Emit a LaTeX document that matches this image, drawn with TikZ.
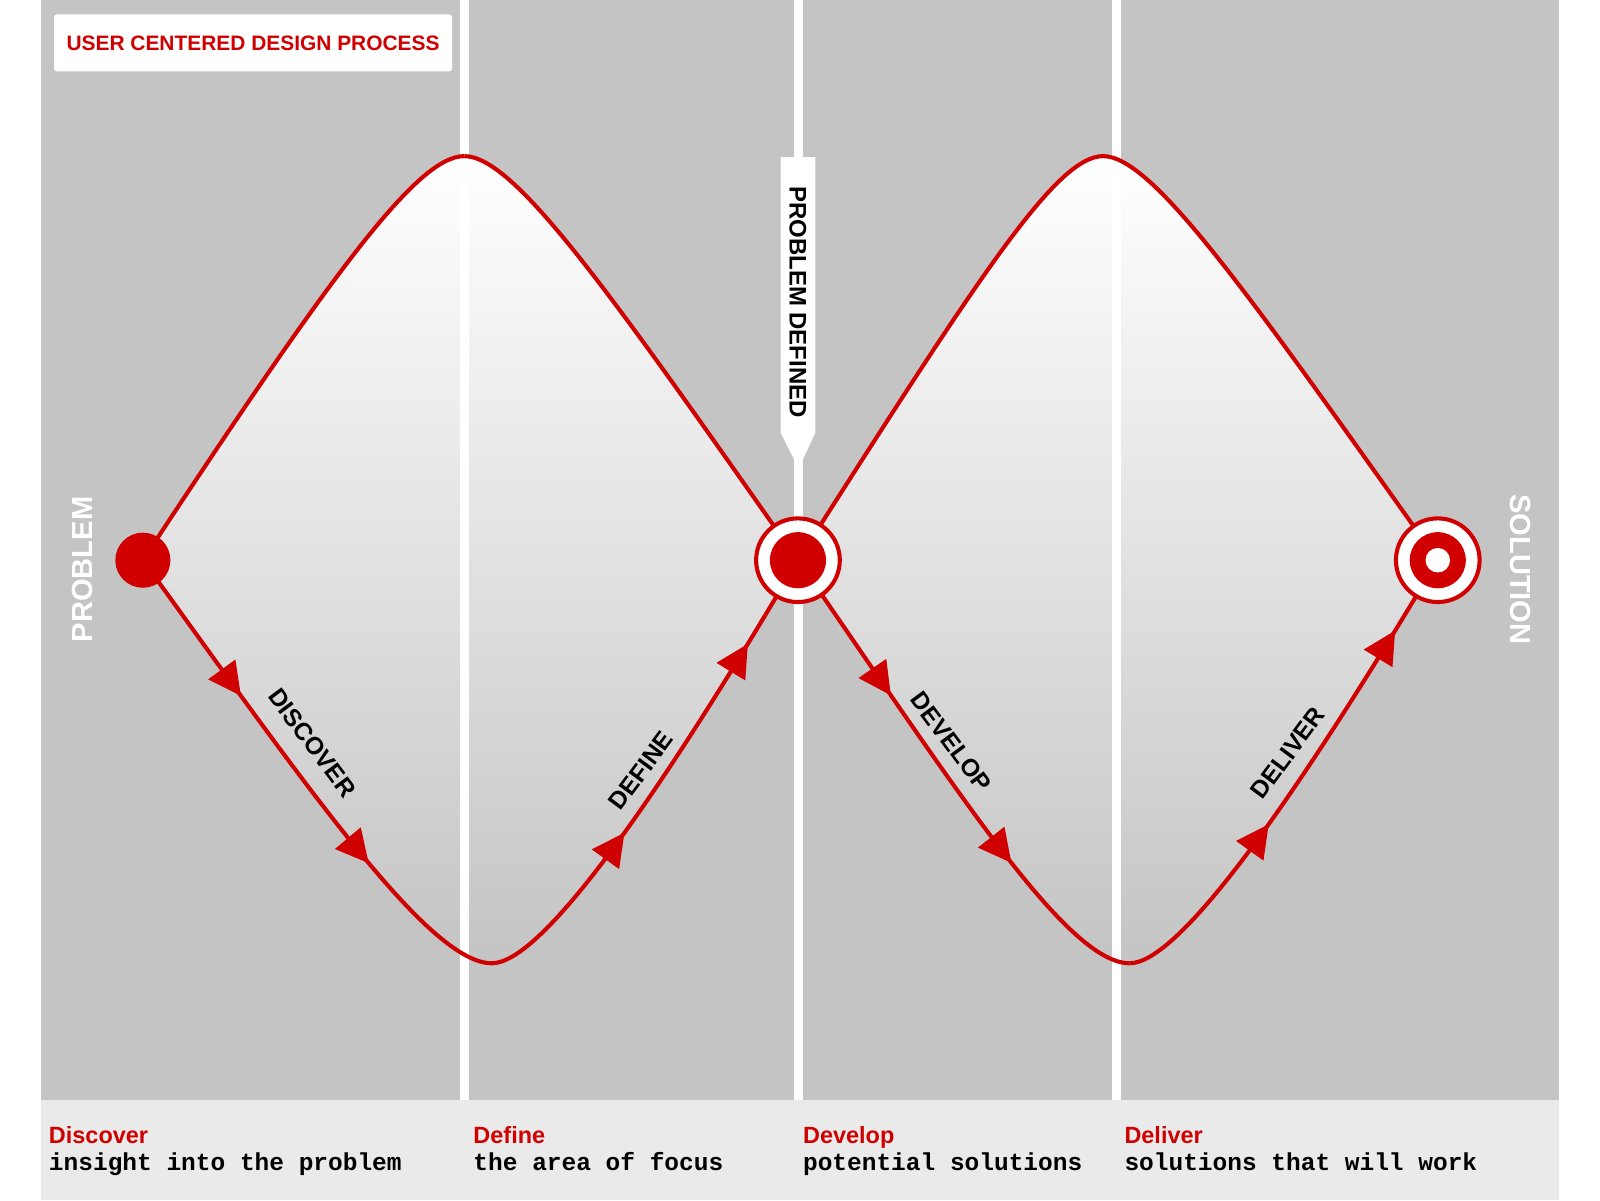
\documentclass[tikz,border=0pt]{standalone}
\usepackage{fontspec}
\setmainfont{Liberation Sans}
\setmonofont{Liberation Mono}
\usetikzlibrary{arrows.meta,decorations.markings}
\definecolor{ucdred}{RGB}{208,0,0}
\definecolor{colgray}{RGB}{196,196,196}
\definecolor{stripgray}{RGB}{234,234,234}
\tikzset{
  flow/.style={draw=ucdred, color=ucdred, line width=4pt},
  flowtip/.tip={Triangle[length=32pt,width=32pt]},
  arrowmarks/.style 2 args={postaction={decorate},
    decoration={markings,
      mark=at position #1 with {\arrow{flowtip}},
      mark=at position #2 with {\arrow{flowtip}}}},
  diamondfill/.style={top color=white, bottom color=colgray},
  phase/.style={anchor=base west, text=ucdred, font=\fontsize{23}{23}\selectfont\bfseries},
  phasetext/.style={anchor=base west, text=black, font=\fontsize{24}{24}\selectfont\ttfamily\bfseries},
  steplabel/.style={text=black, font=\fontsize{24}{24}\selectfont\bfseries},
  sidelabel/.style={text=white, font=\fontsize{28.5}{28.5}\selectfont\bfseries},
}
\begin{document}
\begin{tikzpicture}[x=1pt,y=-1pt, every node/.style={inner sep=0pt, outer sep=0pt}]
\useasboundingbox (0,0) rectangle (1568,1176);
\fill[white] (0,0) rectangle (1568,1176);
\fill[colgray] (40,0) rectangle (1528,1078);
\fill[stripgray] (40,1078) rectangle (1528,1176);

% key points
\coordinate (P) at (140,549);
\coordinate (T1) at (455,153);
\coordinate (B1) at (482,944);
\coordinate (M) at (782,549);
\coordinate (T2) at (1081,153);
\coordinate (B2) at (1107,944);
\coordinate (S) at (1409,549);

% diamond fills
\shade[diamondfill] (P) .. controls (330,260) and (410,153) .. (T1)
  .. controls (505,153) and (600,290) .. (M)
  .. controls (640,790) and (530,944) .. (B1)
  .. controls (420,944) and (300,770) .. (P) -- cycle;
\shade[diamondfill] (M) .. controls (960,270) and (1035,153) .. (T2)
  .. controls (1130,153) and (1225,290) .. (S)
  .. controls (1265,790) and (1155,944) .. (B2)
  .. controls (1045,944) and (935,770) .. (M) -- cycle;

% dividers
\fill[white] (451,0) rectangle (460,1078);
\fill[white] (778,0) rectangle (787,1078);
\fill[white] (1090,0) rectangle (1099,1078);

% problem defined pointer
\fill[white] (765,154) -- (799,154) -- (799,424) -- (787,450) -- (778,450) -- (765,424) -- cycle;
\node[steplabel, rotate=-90, font=\fontsize{23.5}{23.5}\selectfont\bfseries] (pdlbl) at (782,296) {PROBLEM DEFINED};

% curves
\draw[flow] (P) .. controls (330,260) and (410,153) .. (T1);
\draw[flow] (T1) .. controls (505,153) and (600,290) .. (M);
\draw[flow, arrowmarks={0.31}{0.70}] (P) .. controls (300,770) and (420,944) .. (B1);
\draw[flow, arrowmarks={0.37}{0.81}] (B1) .. controls (530,944) and (640,790) .. (M);
\draw[flow] (M) .. controls (960,270) and (1035,153) .. (T2);
\draw[flow] (T2) .. controls (1130,153) and (1225,290) .. (S);
\draw[flow, arrowmarks={0.31}{0.70}] (M) .. controls (935,770) and (1045,944) .. (B2);
\draw[flow, arrowmarks={0.39}{0.84}] (B2) .. controls (1155,944) and (1265,790) .. (S);

% circles
\node[circle, fill=ucdred, minimum size=54pt] (problem) at (P) {};
\node[circle, draw=ucdred, line width=4pt, fill=white, minimum size=82pt] (defined) at (M) {};
\node[circle, fill=ucdred, minimum size=55pt] (definedcore) at (defined.center) {};
\node[circle, draw=ucdred, line width=4pt, fill=white, minimum size=82pt] (solution) at (S) {};
\node[circle, fill=ucdred, minimum size=55pt] (solutioncore) at (solution.center) {};
\node[circle, fill=white, minimum size=24pt] (solutioneye) at (solution.center) {};

% title
\node[fill=white, rounded corners=3pt, minimum width=390pt, minimum height=56pt,
      text=ucdred, font=\fontsize{20.5}{20.5}\selectfont\bfseries] (title) at (248,42) {USER CENTERED DESIGN PROCESS};

% side labels
\node[sidelabel, rotate=90] (problemlbl) at (81,558) {PROBLEM};
\node[sidelabel, rotate=-90] (solutionlbl) at (1490,558) {SOLUTION};

% step labels
\node[steplabel, rotate=-53.4] (discoverlbl) at (306,728) {DISCOVER};
\node[steplabel, rotate=53.5] (definelbl) at (628,755) {DEFINE};
\node[steplabel, rotate=-53.4] (developlbl) at (932,727) {DEVELOP};
\node[steplabel, rotate=53.5] (deliverlbl) at (1262,738) {DELIVER};

% bottom texts
\node[phase] (discoverh) at (48,1121) {Discover};
\node[phasetext] (discovert) at (48,1147) {insight into the problem};
\node[phase] (defineh) at (464,1121) {Define};
\node[phasetext] (definet) at (464,1147) {the area of focus};
\node[phase] (developh) at (787,1121) {Develop};
\node[phasetext] (developt) at (787,1147) {potential solutions};
\node[phase] (deliverh) at (1102,1121) {Deliver};
\node[phasetext] (delivert) at (1102,1147) {solutions that will work};
\end{tikzpicture}
\end{document}
